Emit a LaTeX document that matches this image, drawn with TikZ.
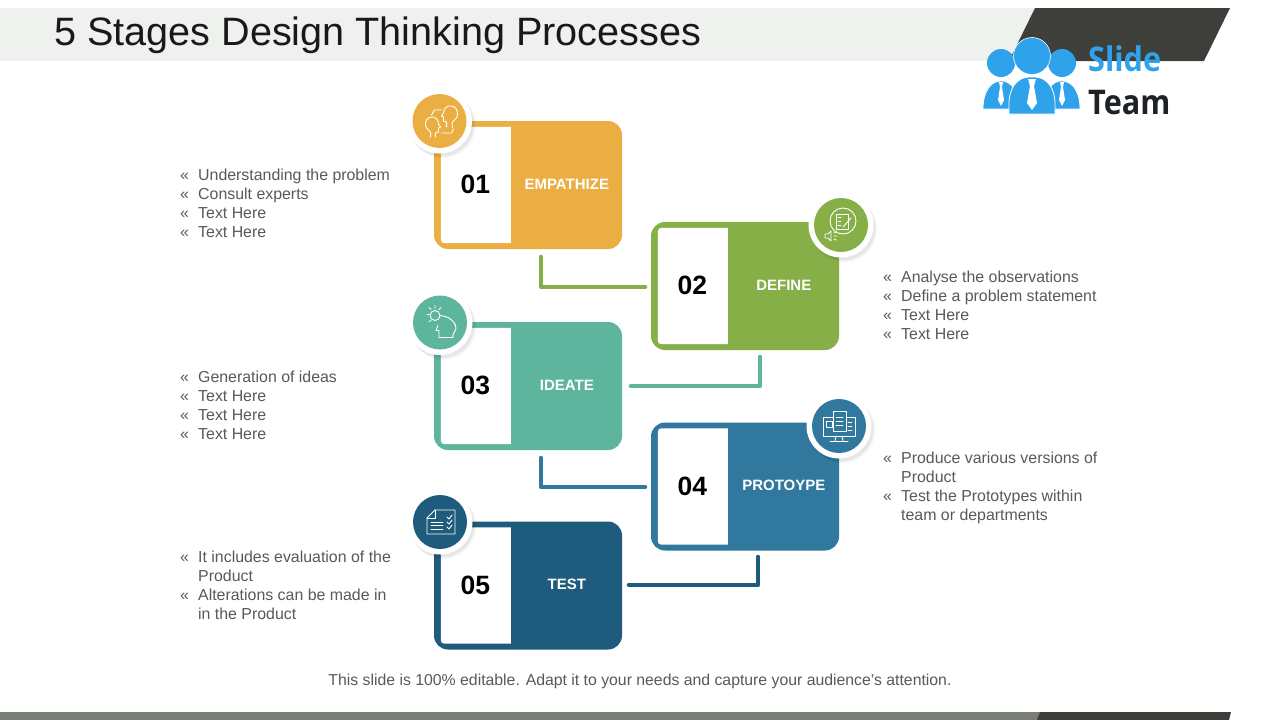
\documentclass[tikz,border=0pt]{standalone}
\usepackage{fontspec}
\setmainfont{Liberation Sans}
\newfontfamily\logofont[FakeStretch=0.9]{Open Sans}
\usetikzlibrary{calc,arrows.meta}
\definecolor{cOne}{HTML}{EBAE43}
\definecolor{cTwo}{HTML}{86AF48}
\definecolor{cThree}{HTML}{5DB59D}
\definecolor{cFour}{HTML}{30789E}
\definecolor{cFive}{HTML}{1E5B7C}
\definecolor{bandc}{HTML}{EFF1EF}
\definecolor{darkc}{HTML}{3E3F3B}
\definecolor{barc}{HTML}{7A7E78}
\definecolor{bodyc}{HTML}{595959}
\definecolor{logob}{HTML}{2FA2EC}
\definecolor{logod}{HTML}{1E2226}
\tikzset{
  cardbox/.style={rectangle,rounded corners=14pt,minimum width=188pt,minimum height=128pt,inner sep=0pt},
  numtext/.style={font=\fontsize{26.5}{30}\selectfont\bfseries,text=black,inner sep=0pt},
  labeltext/.style={font=\fontsize{15}{17}\selectfont\bfseries,text=white,inner sep=0pt},
  listbox/.style={anchor=north west,inner sep=0pt,text=bodyc,font=\fontsize{15.9}{19}\selectfont},
  link/.style={line width=4.6pt,line join=round,line cap=round},
  icon/.style={draw=white,line width=0.9pt,line join=round,line cap=round,fill=none},
  badge/.style={circle,minimum size=54pt,inner sep=0pt},
  ring/.style={circle,fill=white,minimum size=65pt,inner sep=0pt},
  halo/.style={circle,fill=black,minimum size=66pt,inner sep=0pt},
  tie/.style={fill=white,draw=none},
  person/.style={fill=logob,draw=white,line width=0.8pt}
}
\newcommand{\cardmk}[6]{% id, cx, cy, colour, num, label
  \node[cardbox,fill=#4] (card#1) at (#2,#3) {};
  \fill[white] ($(card#1.north west)+(15,6)$) .. controls ($(card#1.north west)+(7,6)$) .. ($(card#1.north west)+(7,14)$) -- ($(card#1.south west)+(7,-14)$) .. controls ($(card#1.south west)+(7,-6)$) .. ($(card#1.south west)+(15,-6)$) -- ($(card#1.south west)+(77,-6)$) -- ($(card#1.north west)+(77,6)$) -- cycle;
  \node[numtext] (num#1) at ($(card#1.west)+(41.5,-0.5)$) {#5};
  \node[labeltext] (lab#1) at ($(card#1.west)+(133,-1)$) {#6};
}
\newcommand{\badgemk}[4]{% id, x, y, colour
  \node[halo,opacity=.04] at (#2+3,#3+4) {};
  \node[halo,opacity=.06,minimum size=65pt] at (#2+2,#3+3) {};
  \node[ring] (ring#1) at (#2,#3) {};
  \node[badge,fill=#4] (badge#1) at (#2,#3) {};
}
\begin{document}
\begin{tikzpicture}[x=1pt,y=-1pt]
\useasboundingbox (0,0) rectangle (1280,720);
\fill[white] (0,0) rectangle (1280,720);
% top band
\fill[bandc] (0,8) rectangle (1036,61);
\fill[darkc] (1035,8) -- (1230,8) -- (1204,61) -- (1009,61) -- cycle;
\node[anchor=base west,inner sep=0pt,text=black!90,font=\fontsize{39.6}{42}\selectfont] (title) at (54,45) {5 Stages Design Thinking Processes};
% bottom bar
\fill[barc] (0,712) rectangle (1042,720);
\fill[darkc] (1040,712) -- (1231,712) -- (1229,720) -- (1037,720) -- cycle;
% logo
\fill[logob] (1001,63) circle (14);
\fill[logob] (1062,63) circle (14);
\fill[person] (983,109) .. controls (983,92) and (990,82) .. (1000,81) -- (1003,81) .. controls (1012,82) and (1018,92) .. (1018,109) -- cycle;
\fill[person] (1080,109) .. controls (1080,92) and (1073,82) .. (1063,81) -- (1060,81) .. controls (1051,82) and (1045,92) .. (1045,109) -- cycle;
\fill[tie] (999,82) -- (1003,82) -- (1002,87) -- (1004,100) -- (1001,106) -- (998,100) -- (1000,87) -- cycle;
\fill[tie] (1060,82) -- (1064,82) -- (1063,87) -- (1065,100) -- (1062,106) -- (1059,100) -- (1061,87) -- cycle;
\fill[person] (1009,114) -- (1009,104) .. controls (1009,88) and (1017,78) .. (1028,77) -- (1036,77) .. controls (1047,78) and (1055,88) .. (1055,104) -- (1055,114) -- cycle;
\fill[logob,draw=white,line width=0.6pt] (1032,56) circle (18.5);
\fill[tie] (1028,79) -- (1036,79) -- (1034,86) -- (1037,103) -- (1032,110) -- (1027,103) -- (1030,86) -- cycle;
\node[anchor=base west,inner sep=0pt,text=logob,font=\logofont\fontsize{34}{36}\selectfont\bfseries] (slide) at (1088,71) {Slide};
\node[anchor=base west,inner sep=0pt,text=logod,font=\logofont\fontsize{34}{36}\selectfont\bfseries] (team) at (1088,114) {Team};
% connectors
\coordinate (a1) at (541,257); \coordinate (a2) at (541,287); \coordinate (a3) at (645,287);
\coordinate (b1) at (760,357); \coordinate (b2) at (760,386); \coordinate (b3) at (631,386);
\coordinate (c1) at (541,458); \coordinate (c2) at (541,487); \coordinate (c3) at (645,487);
\coordinate (d1) at (758,557); \coordinate (d2) at (758,585); \coordinate (d3) at (629,585);
\draw[link,cTwo] (a1) -- (a2) -- (a3);
\draw[link,cThree] (b1) -- (b2) -- (b3);
\draw[link,cFour] (c1) -- (c2) -- (c3);
\draw[link,cFive] (d1) -- (d2) -- (d3);
% cards
\cardmk{1}{528}{185}{cOne}{01}{EMPATHIZE}
\cardmk{2}{745}{286}{cTwo}{02}{DEFINE}
\cardmk{3}{528}{386}{cThree}{03}{IDEATE}
\cardmk{4}{745}{486.5}{cFour}{04}{PROTOYPE}
\cardmk{5}{528}{585.5}{cFive}{05}{TEST}
% badges and icons
\badgemk{1}{439.5}{121}{cOne}
\begin{scope}[shift={(439.5,121)}]
  \draw[icon] plot[smooth] coordinates {(-9,16) (-9,11) (-13,7) (-14,1) (-11,-3) (-6,-4) (-2,-1) (-1,3) (1,6) (-1,7) (-1,11) (-4,12) (-4,16)};
  \draw[icon] plot[smooth] coordinates {(13,7) (13,1) (17,-3) (18,-9) (15,-14) (9,-15) (5,-12) (4,-8) (2,-5) (4,-4) (4,0) (7,1) (7,6)};
  \draw[icon] (2,-11) -- (-5,-11) -- (-8,-6);
  \draw[icon] (2,12) -- (12,12) -- (14,8);
\end{scope}
\badgemk{2}{841}{225}{cTwo}
\begin{scope}[shift={(841,225)}]
  \draw[icon] (2,-4) circle (13);
  \draw[icon] (-5,-11) rectangle (7,4);
  \draw[icon] (-3,-8) -- (0,-8) (-3,-4) -- (0,-4) (-3,0) -- (0,0);
  \draw[icon] (2,2) -- (10,-7);
  \draw[icon] (-16,9) -- (-13,9) -- (-10,6) -- (-10,16) -- (-13,13) -- (-16,13) -- cycle;
  \draw[icon] (-7,8) -- (-5,7) (-7,11) -- (-4,11) (-7,14) -- (-5,15);
\end{scope}
\badgemk{3}{440}{322.5}{cThree}
\begin{scope}[shift={(440,322.5)}]
  \draw[icon] (-5,-7) circle (5);
  \draw[icon] (-13,-8) -- (-11,-8) (-11,-15) -- (-9,-13) (-5,-17) -- (-5,-14) (1,-15) -- (-1,-13) (-11,-1) -- (-9,-2);
  \draw[icon] plot[smooth] coordinates {(0,-7) (8,-5) (14,0) (16,6) (13,12) (13,15)};
  \draw[icon] (13,15) -- (-1,15) -- (-1,8) -- (-4,8) -- (-2,3);
\end{scope}
\badgemk{4}{839}{426}{cFour}
\begin{scope}[shift={(839,426)}]
  \draw[icon] (-16,-9) rectangle (16,10);
  \draw[icon,fill=cFour] (-6,-15) rectangle (7,5);
  \draw[icon] (-13,-5) rectangle (-7,1);
  \draw[icon] (-3,-9) -- (4,-9) (-3,-5) -- (4,-5) (-3,-1) -- (4,-1);
  \draw[icon] (9,-4) -- (13,-4) (9,0) -- (13,0) (9,4) -- (13,4);
  \draw[icon] (-3,10) -- (-4,15) (3,10) -- (4,15) (-9,15.5) -- (9,15.5);
\end{scope}
\badgemk{5}{440}{522}{cFive}
\begin{scope}[shift={(440,522)}]
  \draw[icon] (-5,-12) -- (15,-12) -- (15,12) -- (-13,12) -- (-13,-4) -- cycle;
  \draw[icon] (-5,-12) -- (-5,-4) -- (-13,-4);
  \draw[icon] (-9,0) -- (3,0) (-9,3.5) -- (3,3.5) (-9,7) -- (3,7);
  \draw[icon] (7,-5) -- (9,-3) -- (12,-7) (7,0) -- (9,2) -- (12,-2) (7,5) -- (9,7) -- (12,3);
\end{scope}
% lists
\node[listbox] (list1) at (180,167) {\begin{tabular}{@{}p{18pt}@{}l@{}}«&Understanding the problem\\«&Consult experts\\«&Text Here\\«&Text Here\end{tabular}};
\node[listbox] (list2) at (883,269) {\begin{tabular}{@{}p{18pt}@{}l@{}}«&Analyse the observations\\«&Define a problem statement\\«&Text Here\\«&Text Here\end{tabular}};
\node[listbox] (list3) at (180,369) {\begin{tabular}{@{}p{18pt}@{}l@{}}«&Generation of ideas\\«&Text Here\\«&Text Here\\«&Text Here\end{tabular}};
\node[listbox] (list4) at (883,450) {\begin{tabular}{@{}p{18pt}@{}l@{}}«&Produce various versions of\\&Product\\«&Test the Prototypes within\\&team or departments\end{tabular}};
\node[listbox] (list5) at (180,549) {\begin{tabular}{@{}p{18pt}@{}l@{}}«&It includes evaluation of the\\&Product\\«&Alterations can be made in\\&in the Product\end{tabular}};
\node[inner sep=0pt,text=bodyc,font=\fontsize{15.8}{19}\selectfont] (foot) at (640,681) {This slide is 100\% editable. Adapt it to your needs and capture your audience's attention.};
\end{tikzpicture}
\end{document}
